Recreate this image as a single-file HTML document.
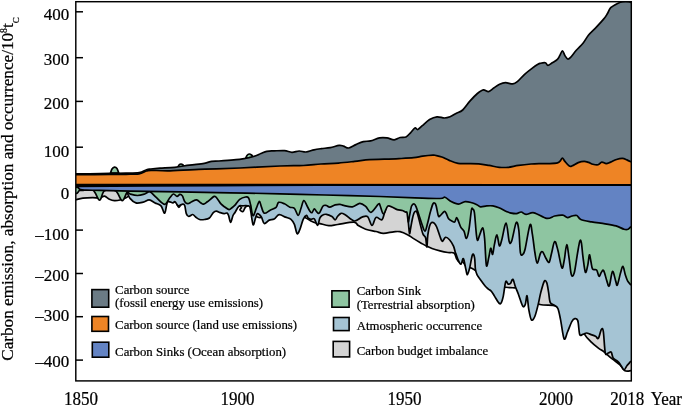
<!DOCTYPE html>
<html><head><meta charset="utf-8"><style>
html,body{margin:0;padding:0;background:#fff;}
svg{display:block;}
text{font-family:"Liberation Serif","Times New Roman",serif;fill:#000;stroke:#000;stroke-width:0.22px;}
.ax text{font-size:17px;}
.lg{font-size:12.8px;}
</style></head><body>
<svg width="685" height="407" viewBox="0 0 685 407">
<defs><clipPath id="pc"><rect x="76" y="1.5" width="555" height="379.5"/></clipPath></defs>
<rect width="685" height="407" fill="#fff"/>
<line x1="76" y1="11.8" x2="83" y2="11.8" stroke="#000" stroke-width="1.5"/>
<line x1="76" y1="57.7" x2="83" y2="57.7" stroke="#000" stroke-width="1.5"/>
<line x1="76" y1="101.4" x2="83" y2="101.4" stroke="#000" stroke-width="1.5"/>
<line x1="76" y1="147.2" x2="83" y2="147.2" stroke="#000" stroke-width="1.5"/>
<line x1="76" y1="192.3" x2="83" y2="192.3" stroke="#000" stroke-width="1.5"/>
<line x1="76" y1="230.1" x2="83" y2="230.1" stroke="#000" stroke-width="1.5"/>
<line x1="76" y1="273.5" x2="83" y2="273.5" stroke="#000" stroke-width="1.5"/>
<line x1="76" y1="316.7" x2="83" y2="316.7" stroke="#000" stroke-width="1.5"/>
<line x1="76" y1="360.1" x2="83" y2="360.1" stroke="#000" stroke-width="1.5"/>
<g clip-path="url(#pc)">
<path d="M76 185.0 L631 185.0 L631 370.7 C629.98 370.7 626.73 371.68 624.9 370.7 C623.07 369.72 622.12 366.77 620 364.8 C617.88 362.83 614.82 361.02 612.2 358.9 C609.58 356.78 606.6 353.9 604.3 352.1 C602 350.3 600.7 349.9 598.4 348.1 C596.1 346.3 592.8 343.58 590.5 341.3 C588.2 339.02 587.18 338.62 584.6 334.4 C582.02 330.18 578.27 319.73 575 316 C571.73 312.27 567.83 313.5 565 312 C562.17 310.5 560 308.12 558 307 C556 305.88 556 305.72 553 305.3 C550 304.88 543.83 305.38 540 304.5 C536.17 303.62 533.33 302.25 530 300 C526.67 297.75 522.17 293 520 291 C517.83 289 517.92 288.53 517 288 C516.08 287.47 515.67 287.85 514.5 287.8 C513.33 287.75 511.58 287.78 510 287.7 C508.42 287.62 506.33 287.08 505 287.3 C503.67 287.52 503.5 288.55 502 289 C500.5 289.45 497.83 290.17 496 290 C494.17 289.83 492.83 289.17 491 288 C489.17 286.83 486.83 285 485 283 C483.17 281 481.33 277.83 480 276 C478.67 274.17 478 273.08 477 272 C476 270.92 475.17 270.23 474 269.5 C472.83 268.77 471.17 267.85 470 267.6 C468.83 267.35 468.17 268.93 467 268 C465.83 267.07 464.3 263 463 262 C461.7 261 460.27 262.55 459.2 262 C458.13 261.45 457.47 260.2 456.6 258.7 C455.73 257.2 455.45 254.03 454 253 C452.55 251.97 450.23 252.85 447.9 252.5 C445.57 252.15 442.65 251.57 440 250.9 C437.35 250.23 434.27 249.3 432 248.5 C429.73 247.7 428.27 247.03 426.4 246.1 C424.53 245.17 423.07 244.23 420.8 242.9 C418.53 241.57 414.93 239.43 412.8 238.1 C410.67 236.77 410.13 235.97 408 234.9 C405.87 233.83 402.38 232.22 400 231.7 C397.62 231.18 396.47 231.53 393.7 231.8 C390.93 232.07 386.35 233.35 383.4 233.3 C380.45 233.25 378.95 232.18 376 231.5 C373.05 230.82 368.65 230.18 365.7 229.2 C362.75 228.22 360.27 226.77 358.3 225.6 C356.33 224.43 357.33 222.38 353.9 222.2 C350.47 222.02 341.88 223.93 337.7 224.5 C333.52 225.07 331.75 225.75 328.8 225.6 C325.85 225.45 322.05 224 320 223.6 C317.95 223.2 318.02 223.63 316.5 223.2 C314.98 222.77 312.75 221.92 310.9 221 C309.05 220.08 307.22 218.53 305.4 217.7 C303.58 216.87 304.23 216.62 300 216 C295.77 215.38 286 214 280 214 C274 214 267.17 215.42 264 216 C260.83 216.58 262 217.3 261 217.5 C260 217.7 259 217.62 258 217.2 C257 216.78 256.33 216.87 255 215 C253.67 213.13 251.57 207.33 250 206 C248.43 204.67 246.77 206.08 245.6 207 C244.43 207.92 243.93 211 243 211.5 C242.07 212 240.83 210.92 240 210 C239.17 209.08 244.67 206.83 238 206 C231.33 205.17 209.17 205.5 200 205 C190.83 204.5 186.25 202.92 183 203 C179.75 203.08 181.2 204.78 180.5 205.5 C179.8 206.22 179.38 207.47 178.8 207.3 C178.22 207.13 177.63 205.38 177 204.5 C176.37 203.62 177.83 202.75 175 202 C172.17 201.25 165.83 200.83 160 200 C154.17 199.17 145 197.67 140 197 C135 196.33 132.32 195.88 130 196 C127.68 196.12 127.77 197.03 126.1 197.7 C124.43 198.37 121.97 199.52 120 200 C118.03 200.48 116.07 200.73 114.3 200.6 C112.53 200.47 111.03 199.93 109.4 199.2 C107.77 198.47 106.13 196.4 104.5 196.2 C102.87 196 101.57 197.75 99.6 198 C97.63 198.25 95.48 197.67 92.7 197.7 C89.92 197.73 85.68 197.87 82.9 198.2 C80.12 198.53 77.15 199.45 76 199.7 Z" fill="#d4d4d4"/>
<path d="M76 199.7 C77.15 199.45 80.12 198.53 82.9 198.2 C85.68 197.87 89.92 197.73 92.7 197.7 C95.48 197.67 97.63 198.25 99.6 198 C101.57 197.75 102.87 196 104.5 196.2 C106.13 196.4 107.77 198.47 109.4 199.2 C111.03 199.93 112.53 200.47 114.3 200.6 C116.07 200.73 118.03 200.48 120 200 C121.97 199.52 124.43 198.37 126.1 197.7 C127.77 197.03 127.68 196.12 130 196 C132.32 195.88 135 196.33 140 197 C145 197.67 154.17 199.17 160 200 C165.83 200.83 172.17 201.25 175 202 C177.83 202.75 176.37 203.62 177 204.5 C177.63 205.38 178.22 207.13 178.8 207.3 C179.38 207.47 179.8 206.22 180.5 205.5 C181.2 204.78 179.75 203.08 183 203 C186.25 202.92 190.83 204.5 200 205 C209.17 205.5 231.33 205.17 238 206 C244.67 206.83 239.17 209.08 240 210 C240.83 210.92 242.07 212 243 211.5 C243.93 211 244.43 207.92 245.6 207 C246.77 206.08 248.43 204.67 250 206 C251.57 207.33 253.67 213.13 255 215 C256.33 216.87 257 216.78 258 217.2 C259 217.62 260 217.7 261 217.5 C262 217.3 260.83 216.58 264 216 C267.17 215.42 274 214 280 214 C286 214 295.77 215.38 300 216 C304.23 216.62 303.58 216.87 305.4 217.7 C307.22 218.53 309.05 220.08 310.9 221 C312.75 221.92 314.98 222.77 316.5 223.2 C318.02 223.63 317.95 223.2 320 223.6 C322.05 224 325.85 225.45 328.8 225.6 C331.75 225.75 333.52 225.07 337.7 224.5 C341.88 223.93 350.47 222.02 353.9 222.2 C357.33 222.38 356.33 224.43 358.3 225.6 C360.27 226.77 362.75 228.22 365.7 229.2 C368.65 230.18 373.05 230.82 376 231.5 C378.95 232.18 380.45 233.25 383.4 233.3 C386.35 233.35 390.93 232.07 393.7 231.8 C396.47 231.53 397.62 231.18 400 231.7 C402.38 232.22 405.87 233.83 408 234.9 C410.13 235.97 410.67 236.77 412.8 238.1 C414.93 239.43 418.53 241.57 420.8 242.9 C423.07 244.23 424.53 245.17 426.4 246.1 C428.27 247.03 429.73 247.7 432 248.5 C434.27 249.3 437.35 250.23 440 250.9 C442.65 251.57 445.57 252.15 447.9 252.5 C450.23 252.85 452.55 251.97 454 253 C455.45 254.03 455.73 257.2 456.6 258.7 C457.47 260.2 458.13 261.45 459.2 262 C460.27 262.55 461.7 261 463 262 C464.3 263 465.83 267.07 467 268 C468.17 268.93 468.83 267.35 470 267.6 C471.17 267.85 472.83 268.77 474 269.5 C475.17 270.23 476 270.92 477 272 C478 273.08 478.67 274.17 480 276 C481.33 277.83 483.17 281 485 283 C486.83 285 489.17 286.83 491 288 C492.83 289.17 494.17 289.83 496 290 C497.83 290.17 500.5 289.45 502 289 C503.5 288.55 503.67 287.52 505 287.3 C506.33 287.08 508.42 287.62 510 287.7 C511.58 287.78 513.33 287.75 514.5 287.8 C515.67 287.85 516.08 287.47 517 288 C517.92 288.53 517.83 289 520 291 C522.17 293 526.67 297.75 530 300 C533.33 302.25 536.17 303.62 540 304.5 C543.83 305.38 550 304.88 553 305.3 C556 305.72 556 305.88 558 307 C560 308.12 562.17 310.5 565 312 C567.83 313.5 571.73 312.27 575 316 C578.27 319.73 582.02 330.18 584.6 334.4 C587.18 338.62 588.2 339.02 590.5 341.3 C592.8 343.58 596.1 346.3 598.4 348.1 C600.7 349.9 602 350.3 604.3 352.1 C606.6 353.9 609.58 356.78 612.2 358.9 C614.82 361.02 617.88 362.83 620 364.8 C622.12 366.77 623.07 369.72 624.9 370.7 C626.73 371.68 629.98 370.7 631 370.7" fill="none" stroke="#000" stroke-width="1.7" stroke-linejoin="round"/>
<path d="M76 185.0 L631 185.0 L631 361 C630.73 361.32 630.08 362.1 629.4 362.9 C628.72 363.7 627.82 364.67 626.9 365.8 C625.98 366.93 625.05 370.02 623.9 369.7 C622.75 369.38 621.13 365.37 620 363.9 C618.87 362.43 618.25 361.9 617.1 360.9 C615.95 359.9 614.08 359.37 613.1 357.9 C612.12 356.43 612.02 352.92 611.2 352.1 C610.38 351.28 609.18 352.85 608.2 353 C607.22 353.15 606.12 356.6 605.3 353 C604.48 349.4 603.97 335.32 603.3 331.4 C602.63 327.48 602.12 328.35 601.3 329.5 C600.48 330.65 599.37 337.17 598.4 338.3 C597.43 339.43 596.82 336.95 595.5 336.3 C594.18 335.65 591.98 334.95 590.5 334.4 C589.02 333.85 587.9 333 586.6 333 C585.3 333 583.85 334.17 582.7 334.4 C581.55 334.63 580.52 336.7 579.7 334.4 C578.88 332.1 578.62 323.22 577.8 320.6 C576.98 317.98 575.8 318.53 574.8 318.7 C573.8 318.87 573.02 319.38 571.8 321.6 C570.58 323.82 568.78 329.13 567.5 332 C566.22 334.87 565.25 340.82 564.1 338.8 C562.95 336.78 561.62 324.92 560.6 319.9 C559.58 314.88 559 311.13 558 308.7 C557 306.27 555.88 306.3 554.6 305.3 C553.32 304.3 551.3 304.85 550.3 302.7 C549.3 300.55 549.18 295.7 548.6 292.4 C548.02 289.1 547.52 284.77 546.8 282.9 C546.08 281.03 545.3 279.62 544.3 281.2 C543.3 282.78 541.82 288.53 540.8 292.4 C539.78 296.27 539.2 300.38 538.2 304.4 C537.2 308.42 535.93 313.92 534.8 316.5 C533.67 319.08 532.4 321.05 531.4 319.9 C530.4 318.75 529.53 313.62 528.8 309.6 C528.07 305.58 527.58 296.67 527 295.8 C526.42 294.93 526.02 302.68 525.3 304.4 C524.58 306.12 523.83 307.75 522.7 306.1 C521.57 304.45 519.73 297.77 518.5 294.5 C517.27 291.23 516.23 289.03 515.3 286.5 C514.37 283.97 513.7 279.83 512.9 279.3 C512.1 278.77 511.3 282.5 510.5 283.3 C509.7 284.1 508.9 284.37 508.1 284.1 C507.3 283.83 506.5 279.7 505.7 281.7 C504.9 283.7 504.1 292.5 503.3 296.1 C502.5 299.7 501.7 302.23 500.9 303.3 C500.1 304.37 499.57 303.7 498.5 302.5 C497.43 301.3 495.7 297.97 494.5 296.1 C493.3 294.23 492.37 292.5 491.3 291.3 C490.23 290.1 489.17 289.83 488.1 288.9 C487.03 287.97 486.23 287.3 484.9 285.7 C483.57 284.1 481.42 281.15 480.1 279.3 C478.78 277.45 477.78 276.32 477 274.6 C476.22 272.88 475.8 271.8 475.4 269 C475 266.2 475.08 260.2 474.6 257.8 C474.12 255.4 473.3 253 472.5 254.6 C471.7 256.2 470.65 264.07 469.8 267.4 C468.95 270.73 468.07 274.33 467.4 274.6 C466.73 274.87 466.47 271.67 465.8 269 C465.13 266.33 464.2 259.4 463.4 258.6 C462.6 257.8 461.8 263.8 461 264.2 C460.2 264.6 459.4 262.6 458.6 261 C457.8 259.4 456.77 256.1 456.2 254.6 C455.63 253.1 455.65 253.42 455.2 252 C454.75 250.58 454.45 248.15 453.5 246.1 C452.55 244.05 450.83 241.17 449.5 239.7 C448.17 238.23 446.7 237.03 445.5 237.3 C444.3 237.57 443.22 241.43 442.3 241.3 C441.38 241.17 440.93 238.88 440 236.5 C439.07 234.12 437.67 229.22 436.7 227 C435.73 224.78 435.05 223.93 434.2 223.2 C433.35 222.47 432.37 222.15 431.6 222.6 C430.83 223.05 430.23 223.8 429.6 225.9 C428.97 228 428.25 231.68 427.8 235.2 C427.35 238.72 427.27 246.57 426.9 247 C426.53 247.43 426.27 239.98 425.6 237.8 C424.93 235.62 423.78 236.1 422.9 233.9 C422.02 231.7 421.07 227.48 420.3 224.6 C419.53 221.72 418.87 218.7 418.3 216.6 C417.73 214.5 417.35 212.88 416.9 212 C416.45 211.12 416.08 211.13 415.6 211.3 C415.12 211.47 414.55 211.68 414 213 C413.45 214.32 412.88 216.53 412.3 219.2 C411.72 221.87 410.97 226.62 410.5 229 C410.03 231.38 409.87 234.67 409.5 233.5 C409.13 232.33 408.72 226.25 408.3 222 C407.88 217.75 408.38 210.83 407 208 C405.62 205.17 403.2 205.42 400 205 C396.8 204.58 390.32 204.42 387.8 205.5 C385.28 206.58 385.88 209.13 384.9 211.5 C383.92 213.87 383.38 218.72 381.9 219.7 C380.42 220.68 377.65 216.45 376 217.4 C374.35 218.35 373.4 225.53 372 225.4 C370.6 225.27 369.25 217.98 367.6 216.6 C365.95 215.22 364.32 216.37 362.1 217.1 C359.88 217.83 357.07 221.35 354.3 221 C351.53 220.65 347.7 216.28 345.5 215 C343.3 213.72 342.43 213.05 341.1 213.3 C339.77 213.55 338.48 215.4 337.5 216.5 C336.52 217.6 336.13 219.9 335.2 219.9 C334.27 219.9 333.37 217.43 331.9 216.5 C330.43 215.57 328.05 214.48 326.4 214.3 C324.75 214.12 323.1 214.75 322 215.4 C320.9 216.05 320.53 216.53 319.8 218.2 C319.07 219.87 318.52 225.3 317.6 225.4 C316.68 225.5 315.42 219.82 314.3 218.8 C313.18 217.78 311.92 219.4 310.9 219.3 C309.88 219.2 308.93 218.85 308.2 218.2 C307.47 217.55 307.33 215.22 306.5 215.4 C305.67 215.58 304.3 216.98 303.2 219.3 C302.1 221.62 300.92 226.9 299.9 229.3 C298.88 231.7 298.02 234.53 297.1 233.7 C296.18 232.87 295.42 226.7 294.4 224.3 C293.38 221.9 292.48 220.5 291 219.3 C289.52 218.1 287.48 217.87 285.5 217.1 C283.52 216.33 280.98 214.37 279.1 214.7 C277.22 215.03 275.85 218.2 274.2 219.1 C272.55 220 270.85 219.37 269.2 220.1 C267.55 220.83 265.6 224 264.3 223.5 C263 223 262.55 218.73 261.4 217.1 C260.25 215.47 258.38 213.53 257.4 213.7 C256.42 213.87 256.23 216.3 255.5 218.1 C254.77 219.9 253.9 226.22 253 224.5 C252.1 222.78 251 210.92 250.1 207.8 C249.2 204.68 248.83 206.13 247.6 205.8 C246.37 205.47 244.17 205.72 242.7 205.8 C241.23 205.88 240.08 205.18 238.8 206.3 C237.52 207.42 235.97 210.97 235 212.5 C234.03 214.03 233.73 213.85 233 215.5 C232.27 217.15 231.33 222.4 230.6 222.4 C229.87 222.4 229.18 217.05 228.6 215.5 C228.02 213.95 227.83 213.42 227.1 213.1 C226.37 212.78 225.35 213.68 224.2 213.6 C223.05 213.52 221.52 213.02 220.2 212.6 C218.88 212.18 217.45 211.1 216.3 211.1 C215.15 211.1 214.45 211.45 213.3 212.6 C212.15 213.75 210.87 216.85 209.4 218 C207.93 219.15 206.13 219.25 204.5 219.5 C202.87 219.75 201.08 219.92 199.6 219.5 C198.12 219.08 196.75 217.83 195.6 217 C194.45 216.17 193.83 214.58 192.7 214.5 C191.57 214.42 189.87 216.65 188.8 216.5 C187.73 216.35 186.97 215.4 186.3 213.6 C185.63 211.8 185.37 207.27 184.8 205.7 C184.23 204.13 183.72 204.28 182.9 204.2 C182.08 204.12 180.72 204.95 179.9 205.2 C179.08 205.45 178.82 206.27 178 205.7 C177.18 205.13 175.87 202.27 175 201.8 C174.13 201.33 174.03 202.85 172.8 202.9 C171.57 202.95 168.95 200.38 167.6 202.1 C166.25 203.82 165.8 212.58 164.7 213.2 C163.6 213.82 162.6 207.52 161 205.8 C159.4 204.08 157.07 203.88 155.1 202.9 C153.13 201.92 151.17 200.03 149.2 199.9 C147.23 199.77 145.52 201.6 143.3 202.1 C141.08 202.6 138.12 203.52 135.9 202.9 C133.68 202.28 131.65 200.38 130 198.4 C128.35 196.42 127.67 192.48 126 191 C124.33 189.52 128.33 189.83 120 189.5 C111.67 189.17 83.33 189.08 76 189 Z" fill="#a5c4d4"/>
<path d="M76 189 C83.33 189.08 111.67 189.17 120 189.5 C128.33 189.83 124.33 189.52 126 191 C127.67 192.48 128.35 196.42 130 198.4 C131.65 200.38 133.68 202.28 135.9 202.9 C138.12 203.52 141.08 202.6 143.3 202.1 C145.52 201.6 147.23 199.77 149.2 199.9 C151.17 200.03 153.13 201.92 155.1 202.9 C157.07 203.88 159.4 204.08 161 205.8 C162.6 207.52 163.6 213.82 164.7 213.2 C165.8 212.58 166.25 203.82 167.6 202.1 C168.95 200.38 171.57 202.95 172.8 202.9 C174.03 202.85 174.13 201.33 175 201.8 C175.87 202.27 177.18 205.13 178 205.7 C178.82 206.27 179.08 205.45 179.9 205.2 C180.72 204.95 182.08 204.12 182.9 204.2 C183.72 204.28 184.23 204.13 184.8 205.7 C185.37 207.27 185.63 211.8 186.3 213.6 C186.97 215.4 187.73 216.35 188.8 216.5 C189.87 216.65 191.57 214.42 192.7 214.5 C193.83 214.58 194.45 216.17 195.6 217 C196.75 217.83 198.12 219.08 199.6 219.5 C201.08 219.92 202.87 219.75 204.5 219.5 C206.13 219.25 207.93 219.15 209.4 218 C210.87 216.85 212.15 213.75 213.3 212.6 C214.45 211.45 215.15 211.1 216.3 211.1 C217.45 211.1 218.88 212.18 220.2 212.6 C221.52 213.02 223.05 213.52 224.2 213.6 C225.35 213.68 226.37 212.78 227.1 213.1 C227.83 213.42 228.02 213.95 228.6 215.5 C229.18 217.05 229.87 222.4 230.6 222.4 C231.33 222.4 232.27 217.15 233 215.5 C233.73 213.85 234.03 214.03 235 212.5 C235.97 210.97 237.52 207.42 238.8 206.3 C240.08 205.18 241.23 205.88 242.7 205.8 C244.17 205.72 246.37 205.47 247.6 205.8 C248.83 206.13 249.2 204.68 250.1 207.8 C251 210.92 252.1 222.78 253 224.5 C253.9 226.22 254.77 219.9 255.5 218.1 C256.23 216.3 256.42 213.87 257.4 213.7 C258.38 213.53 260.25 215.47 261.4 217.1 C262.55 218.73 263 223 264.3 223.5 C265.6 224 267.55 220.83 269.2 220.1 C270.85 219.37 272.55 220 274.2 219.1 C275.85 218.2 277.22 215.03 279.1 214.7 C280.98 214.37 283.52 216.33 285.5 217.1 C287.48 217.87 289.52 218.1 291 219.3 C292.48 220.5 293.38 221.9 294.4 224.3 C295.42 226.7 296.18 232.87 297.1 233.7 C298.02 234.53 298.88 231.7 299.9 229.3 C300.92 226.9 302.1 221.62 303.2 219.3 C304.3 216.98 305.67 215.58 306.5 215.4 C307.33 215.22 307.47 217.55 308.2 218.2 C308.93 218.85 309.88 219.2 310.9 219.3 C311.92 219.4 313.18 217.78 314.3 218.8 C315.42 219.82 316.68 225.5 317.6 225.4 C318.52 225.3 319.07 219.87 319.8 218.2 C320.53 216.53 320.9 216.05 322 215.4 C323.1 214.75 324.75 214.12 326.4 214.3 C328.05 214.48 330.43 215.57 331.9 216.5 C333.37 217.43 334.27 219.9 335.2 219.9 C336.13 219.9 336.52 217.6 337.5 216.5 C338.48 215.4 339.77 213.55 341.1 213.3 C342.43 213.05 343.3 213.72 345.5 215 C347.7 216.28 351.53 220.65 354.3 221 C357.07 221.35 359.88 217.83 362.1 217.1 C364.32 216.37 365.95 215.22 367.6 216.6 C369.25 217.98 370.6 225.27 372 225.4 C373.4 225.53 374.35 218.35 376 217.4 C377.65 216.45 380.42 220.68 381.9 219.7 C383.38 218.72 383.92 213.87 384.9 211.5 C385.88 209.13 385.28 206.58 387.8 205.5 C390.32 204.42 396.8 204.58 400 205 C403.2 205.42 405.62 205.17 407 208 C408.38 210.83 407.88 217.75 408.3 222 C408.72 226.25 409.13 232.33 409.5 233.5 C409.87 234.67 410.03 231.38 410.5 229 C410.97 226.62 411.72 221.87 412.3 219.2 C412.88 216.53 413.45 214.32 414 213 C414.55 211.68 415.12 211.47 415.6 211.3 C416.08 211.13 416.45 211.12 416.9 212 C417.35 212.88 417.73 214.5 418.3 216.6 C418.87 218.7 419.53 221.72 420.3 224.6 C421.07 227.48 422.02 231.7 422.9 233.9 C423.78 236.1 424.93 235.62 425.6 237.8 C426.27 239.98 426.53 247.43 426.9 247 C427.27 246.57 427.35 238.72 427.8 235.2 C428.25 231.68 428.97 228 429.6 225.9 C430.23 223.8 430.83 223.05 431.6 222.6 C432.37 222.15 433.35 222.47 434.2 223.2 C435.05 223.93 435.73 224.78 436.7 227 C437.67 229.22 439.07 234.12 440 236.5 C440.93 238.88 441.38 241.17 442.3 241.3 C443.22 241.43 444.3 237.57 445.5 237.3 C446.7 237.03 448.17 238.23 449.5 239.7 C450.83 241.17 452.55 244.05 453.5 246.1 C454.45 248.15 454.75 250.58 455.2 252 C455.65 253.42 455.63 253.1 456.2 254.6 C456.77 256.1 457.8 259.4 458.6 261 C459.4 262.6 460.2 264.6 461 264.2 C461.8 263.8 462.6 257.8 463.4 258.6 C464.2 259.4 465.13 266.33 465.8 269 C466.47 271.67 466.73 274.87 467.4 274.6 C468.07 274.33 468.95 270.73 469.8 267.4 C470.65 264.07 471.7 256.2 472.5 254.6 C473.3 253 474.12 255.4 474.6 257.8 C475.08 260.2 475 266.2 475.4 269 C475.8 271.8 476.22 272.88 477 274.6 C477.78 276.32 478.78 277.45 480.1 279.3 C481.42 281.15 483.57 284.1 484.9 285.7 C486.23 287.3 487.03 287.97 488.1 288.9 C489.17 289.83 490.23 290.1 491.3 291.3 C492.37 292.5 493.3 294.23 494.5 296.1 C495.7 297.97 497.43 301.3 498.5 302.5 C499.57 303.7 500.1 304.37 500.9 303.3 C501.7 302.23 502.5 299.7 503.3 296.1 C504.1 292.5 504.9 283.7 505.7 281.7 C506.5 279.7 507.3 283.83 508.1 284.1 C508.9 284.37 509.7 284.1 510.5 283.3 C511.3 282.5 512.1 278.77 512.9 279.3 C513.7 279.83 514.37 283.97 515.3 286.5 C516.23 289.03 517.27 291.23 518.5 294.5 C519.73 297.77 521.57 304.45 522.7 306.1 C523.83 307.75 524.58 306.12 525.3 304.4 C526.02 302.68 526.42 294.93 527 295.8 C527.58 296.67 528.07 305.58 528.8 309.6 C529.53 313.62 530.4 318.75 531.4 319.9 C532.4 321.05 533.67 319.08 534.8 316.5 C535.93 313.92 537.2 308.42 538.2 304.4 C539.2 300.38 539.78 296.27 540.8 292.4 C541.82 288.53 543.3 282.78 544.3 281.2 C545.3 279.62 546.08 281.03 546.8 282.9 C547.52 284.77 548.02 289.1 548.6 292.4 C549.18 295.7 549.3 300.55 550.3 302.7 C551.3 304.85 553.32 304.3 554.6 305.3 C555.88 306.3 557 306.27 558 308.7 C559 311.13 559.58 314.88 560.6 319.9 C561.62 324.92 562.95 336.78 564.1 338.8 C565.25 340.82 566.22 334.87 567.5 332 C568.78 329.13 570.58 323.82 571.8 321.6 C573.02 319.38 573.8 318.87 574.8 318.7 C575.8 318.53 576.98 317.98 577.8 320.6 C578.62 323.22 578.88 332.1 579.7 334.4 C580.52 336.7 581.55 334.63 582.7 334.4 C583.85 334.17 585.3 333 586.6 333 C587.9 333 589.02 333.85 590.5 334.4 C591.98 334.95 594.18 335.65 595.5 336.3 C596.82 336.95 597.43 339.43 598.4 338.3 C599.37 337.17 600.48 330.65 601.3 329.5 C602.12 328.35 602.63 327.48 603.3 331.4 C603.97 335.32 604.48 349.4 605.3 353 C606.12 356.6 607.22 353.15 608.2 353 C609.18 352.85 610.38 351.28 611.2 352.1 C612.02 352.92 612.12 356.43 613.1 357.9 C614.08 359.37 615.95 359.9 617.1 360.9 C618.25 361.9 618.87 362.43 620 363.9 C621.13 365.37 622.75 369.38 623.9 369.7 C625.05 370.02 625.98 366.93 626.9 365.8 C627.82 364.67 628.72 363.7 629.4 362.9 C630.08 362.1 630.73 361.32 631 361" fill="none" stroke="#000" stroke-width="1.7" stroke-linejoin="round"/>
<path d="M76 185.0 L631 185.0 L631 285.1 C630.45 284.43 628.65 282.83 627.7 281.1 C626.75 279.37 626.1 277.15 625.3 274.7 C624.5 272.25 623.7 266.67 622.9 266.4 C622.1 266.13 621.43 269.98 620.5 273.1 C619.57 276.22 618.1 283.77 617.3 285.1 C616.5 286.43 616.5 283.37 615.7 281.1 C614.9 278.83 613.57 270.7 612.5 271.5 C611.43 272.3 610.23 284.3 609.3 285.9 C608.37 287.5 607.83 283.63 606.9 281.1 C605.97 278.57 604.62 272.17 603.7 270.7 C602.78 269.23 602.18 271.37 601.4 272.3 C600.62 273.23 599.8 276.68 599 276.3 C598.2 275.92 597.67 271.2 596.6 270 C595.53 268.8 593.53 270.43 592.6 269.1 C591.67 267.77 591.53 264.38 591 262 C590.47 259.62 589.93 254.28 589.4 254.8 C588.87 255.32 588.47 262.18 587.8 265.1 C587.13 268.02 586.2 273.62 585.4 272.3 C584.6 270.98 583.67 262.12 583 257.2 C582.33 252.28 581.93 245.47 581.4 242.8 C580.87 240.13 580.47 239.33 579.8 241.2 C579.13 243.07 578.33 248.68 577.4 254 C576.47 259.32 575.22 269.68 574.2 273.1 C573.18 276.52 572.15 276.97 571.3 274.5 C570.45 272.03 569.87 263.27 569.1 258.3 C568.33 253.33 567.5 244.43 566.7 244.7 C565.9 244.97 565.1 256.03 564.3 259.9 C563.5 263.77 562.97 269.5 561.9 267.9 C560.83 266.3 559.1 254.68 557.9 250.3 C556.7 245.92 555.77 241.07 554.7 241.6 C553.63 242.13 552.43 250.05 551.5 253.5 C550.57 256.95 550.03 261.5 549.1 262.3 C548.17 263.1 546.97 260.03 545.9 258.3 C544.83 256.57 543.62 252.7 542.7 251.9 C541.78 251.1 541.32 251.63 540.4 253.5 C539.48 255.37 538.13 263.35 537.2 263.1 C536.27 262.85 535.6 256.78 534.8 252 C534 247.22 533.2 238.93 532.4 234.4 C531.6 229.87 531.2 222.42 530 224.8 C528.8 227.18 526.4 243.78 525.2 248.7 C524 253.62 523.6 253.63 522.8 254.3 C522 254.97 521.07 256.75 520.4 252.7 C519.73 248.65 519.5 235.02 518.8 230 C518.1 224.98 517.38 220.78 516.2 222.6 C515.02 224.42 512.87 237.75 511.7 240.9 C510.53 244.05 510.13 244.47 509.2 241.5 C508.27 238.53 507.33 223.4 506.1 223.1 C504.87 222.8 502.92 235.92 501.8 239.7 C500.68 243.48 500.22 246.62 499.4 245.8 C498.58 244.98 497.73 235 496.9 234.8 C496.07 234.6 495.12 241.33 494.4 244.6 C493.68 247.87 493.22 253.78 492.6 254.4 C491.98 255.02 491.32 247.88 490.7 248.3 C490.08 248.72 489.62 254.03 488.9 256.9 C488.18 259.77 487.12 268.57 486.4 265.5 C485.68 262.43 485.2 244.75 484.6 238.5 C484 232.25 483.62 228.62 482.8 228 C481.98 227.38 480.58 232.72 479.7 234.8 C478.82 236.88 478.07 240.7 477.5 240.5 C476.93 240.3 476.82 238.23 476.3 233.6 C475.78 228.97 475.02 216.8 474.4 212.7 C473.78 208.6 473.1 209.42 472.6 209 C472.1 208.58 472.02 206.72 471.4 210.2 C470.78 213.68 469.73 225.18 468.9 229.9 C468.07 234.62 467.22 238.3 466.4 238.5 C465.58 238.7 464.92 232.95 464 231.1 C463.08 229.25 461.82 229.03 460.9 227.4 C459.98 225.77 459.22 222.93 458.5 221.3 C457.78 219.67 457.22 217.5 456.6 217.6 C455.98 217.7 455.52 221.28 454.8 221.9 C454.08 222.52 453.33 221.82 452.3 221.3 C451.27 220.78 449.62 220.13 448.6 218.8 C447.58 217.47 446.92 214.52 446.2 213.3 C445.48 212.08 445.33 211.08 444.3 211.5 C443.27 211.92 441 215.08 440 215.8 C439 216.52 438.93 217.43 438.3 215.8 C437.67 214.17 436.77 208.08 436.2 206 C435.63 203.92 435.45 203.63 434.9 203.3 C434.35 202.97 433.68 202.45 432.9 204 C432.12 205.55 431.08 209.4 430.2 212.6 C429.32 215.8 428.48 220.1 427.6 223.2 C426.72 226.3 425.9 231.2 424.9 231.2 C423.9 231.2 422.58 225.85 421.6 223.2 C420.62 220.55 419.88 217.95 419 215.3 C418.12 212.65 417.08 209.18 416.3 207.3 C415.52 205.42 415.08 204.22 414.3 204 C413.52 203.78 412.38 204.12 411.6 206 C410.82 207.88 410.15 212.65 409.6 215.3 C409.05 217.95 408.73 222.35 408.3 221.9 C407.87 221.45 407.42 214.22 407 212.6 C406.58 210.98 406.57 212.55 405.8 212.2 C405.03 211.85 403.83 210.93 402.4 210.5 C400.97 210.07 398.93 210.18 397.2 209.6 C395.47 209.02 393.58 207.57 392 207 C390.42 206.43 389.13 205.05 387.7 206.2 C386.27 207.35 384.68 214.05 383.4 213.9 C382.12 213.75 380.85 206.92 380 205.3 C379.15 203.68 379.82 203.03 378.3 204.2 C376.78 205.37 373 211.93 370.9 212.3 C368.8 212.67 367.55 207.88 365.7 206.4 C363.85 204.92 362.02 203.33 359.8 203.4 C357.58 203.47 355.1 206.47 352.4 206.8 C349.7 207.13 345.67 205.8 343.6 205.4 C341.53 205 341.4 204.48 340 204.4 C338.6 204.32 336.92 204.43 335.2 204.9 C333.48 205.37 331.17 207.1 329.7 207.2 C328.23 207.3 327.5 205.7 326.4 205.5 C325.3 205.3 324.3 204.72 323.1 206 C321.9 207.28 320.3 212.27 319.2 213.2 C318.1 214.13 317.32 212.33 316.5 211.6 C315.68 210.87 315.05 208.62 314.3 208.8 C313.55 208.98 312.75 212.33 312 212.7 C311.25 213.07 310.62 212.12 309.8 211 C308.98 209.88 308.1 207.75 307.1 206 C306.1 204.25 304.82 200.12 303.8 200.5 C302.78 200.88 301.93 205.82 301 208.3 C300.07 210.78 299.3 215.4 298.2 215.4 C297.1 215.4 295.78 209.67 294.4 208.3 C293.02 206.93 291.57 207.95 289.9 207.2 C288.23 206.45 286.28 204.6 284.4 203.8 C282.52 203 279.98 201.82 278.6 202.4 C277.22 202.98 277.5 206 276.1 207.3 C274.7 208.6 272.17 209.22 270.2 210.2 C268.23 211.18 265.77 213.77 264.3 213.2 C262.83 212.63 262.22 208.77 261.4 206.8 C260.58 204.83 260.22 201.23 259.4 201.4 C258.58 201.57 257.57 205.43 256.5 207.8 C255.43 210.17 253.98 216.1 253 215.6 C252.02 215.1 251.33 207.73 250.6 204.8 C249.87 201.87 249.43 199.3 248.6 198 C247.77 196.7 247.08 196.77 245.6 197 C244.12 197.23 241.47 198.03 239.7 199.4 C237.93 200.77 236.28 203.82 235 205.2 C233.72 206.58 232.98 206.97 232 207.7 C231.02 208.43 230.25 209.68 229.1 209.6 C227.95 209.52 226.42 208.1 225.1 207.2 C223.78 206.3 222.5 205.6 221.2 204.2 C219.9 202.8 218.45 200.1 217.3 198.8 C216.15 197.5 215.95 195.9 214.3 196.4 C212.65 196.9 209.2 200.5 207.4 201.8 C205.6 203.1 204.63 204.05 203.5 204.2 C202.37 204.35 201.75 203.43 200.6 202.7 C199.45 201.97 198.08 199.95 196.6 199.8 C195.12 199.65 193.17 201.15 191.7 201.8 C190.23 202.45 188.95 203.7 187.8 203.7 C186.65 203.7 185.7 203.1 184.8 201.8 C183.9 200.5 183.22 197.13 182.4 195.9 C181.58 194.67 180.8 194.32 179.9 194.4 C179 194.48 178.07 196.47 177 196.4 C175.93 196.33 174.7 193.78 173.5 194 C172.3 194.22 171.27 195.98 169.8 197.7 C168.33 199.42 166.92 204.3 164.7 204.3 C162.48 204.3 158.97 199.78 156.5 197.7 C154.03 195.62 151.87 192.42 149.9 191.8 C147.93 191.18 146.78 193.38 144.7 194 C142.62 194.62 139.85 195.5 137.4 195.5 C134.95 195.5 131.73 194.5 130 194 C128.27 193.5 128.3 191.4 127 192.5 C125.7 193.6 124.12 200.88 122.2 200.6 C120.28 200.32 118.45 192.43 115.5 190.8 C112.55 189.17 107.15 189.23 104.5 190.8 C101.85 192.37 101.52 200.28 99.6 200.2 C97.68 200.12 95.93 191.93 93 190.3 C90.07 188.67 84.25 190.35 82 190.4 C79.75 190.45 80.25 190.2 79.5 190.6 C78.75 191 78.08 192.27 77.5 192.8 C76.92 193.33 76.25 193.63 76 193.8 Z" fill="#8ec5a1"/>
<path d="M76 193.8 C76.25 193.63 76.92 193.33 77.5 192.8 C78.08 192.27 78.75 191 79.5 190.6 C80.25 190.2 79.75 190.45 82 190.4 C84.25 190.35 90.07 188.67 93 190.3 C95.93 191.93 97.68 200.12 99.6 200.2 C101.52 200.28 101.85 192.37 104.5 190.8 C107.15 189.23 112.55 189.17 115.5 190.8 C118.45 192.43 120.28 200.32 122.2 200.6 C124.12 200.88 125.7 193.6 127 192.5 C128.3 191.4 128.27 193.5 130 194 C131.73 194.5 134.95 195.5 137.4 195.5 C139.85 195.5 142.62 194.62 144.7 194 C146.78 193.38 147.93 191.18 149.9 191.8 C151.87 192.42 154.03 195.62 156.5 197.7 C158.97 199.78 162.48 204.3 164.7 204.3 C166.92 204.3 168.33 199.42 169.8 197.7 C171.27 195.98 172.3 194.22 173.5 194 C174.7 193.78 175.93 196.33 177 196.4 C178.07 196.47 179 194.48 179.9 194.4 C180.8 194.32 181.58 194.67 182.4 195.9 C183.22 197.13 183.9 200.5 184.8 201.8 C185.7 203.1 186.65 203.7 187.8 203.7 C188.95 203.7 190.23 202.45 191.7 201.8 C193.17 201.15 195.12 199.65 196.6 199.8 C198.08 199.95 199.45 201.97 200.6 202.7 C201.75 203.43 202.37 204.35 203.5 204.2 C204.63 204.05 205.6 203.1 207.4 201.8 C209.2 200.5 212.65 196.9 214.3 196.4 C215.95 195.9 216.15 197.5 217.3 198.8 C218.45 200.1 219.9 202.8 221.2 204.2 C222.5 205.6 223.78 206.3 225.1 207.2 C226.42 208.1 227.95 209.52 229.1 209.6 C230.25 209.68 231.02 208.43 232 207.7 C232.98 206.97 233.72 206.58 235 205.2 C236.28 203.82 237.93 200.77 239.7 199.4 C241.47 198.03 244.12 197.23 245.6 197 C247.08 196.77 247.77 196.7 248.6 198 C249.43 199.3 249.87 201.87 250.6 204.8 C251.33 207.73 252.02 215.1 253 215.6 C253.98 216.1 255.43 210.17 256.5 207.8 C257.57 205.43 258.58 201.57 259.4 201.4 C260.22 201.23 260.58 204.83 261.4 206.8 C262.22 208.77 262.83 212.63 264.3 213.2 C265.77 213.77 268.23 211.18 270.2 210.2 C272.17 209.22 274.7 208.6 276.1 207.3 C277.5 206 277.22 202.98 278.6 202.4 C279.98 201.82 282.52 203 284.4 203.8 C286.28 204.6 288.23 206.45 289.9 207.2 C291.57 207.95 293.02 206.93 294.4 208.3 C295.78 209.67 297.1 215.4 298.2 215.4 C299.3 215.4 300.07 210.78 301 208.3 C301.93 205.82 302.78 200.88 303.8 200.5 C304.82 200.12 306.1 204.25 307.1 206 C308.1 207.75 308.98 209.88 309.8 211 C310.62 212.12 311.25 213.07 312 212.7 C312.75 212.33 313.55 208.98 314.3 208.8 C315.05 208.62 315.68 210.87 316.5 211.6 C317.32 212.33 318.1 214.13 319.2 213.2 C320.3 212.27 321.9 207.28 323.1 206 C324.3 204.72 325.3 205.3 326.4 205.5 C327.5 205.7 328.23 207.3 329.7 207.2 C331.17 207.1 333.48 205.37 335.2 204.9 C336.92 204.43 338.6 204.32 340 204.4 C341.4 204.48 341.53 205 343.6 205.4 C345.67 205.8 349.7 207.13 352.4 206.8 C355.1 206.47 357.58 203.47 359.8 203.4 C362.02 203.33 363.85 204.92 365.7 206.4 C367.55 207.88 368.8 212.67 370.9 212.3 C373 211.93 376.78 205.37 378.3 204.2 C379.82 203.03 379.15 203.68 380 205.3 C380.85 206.92 382.12 213.75 383.4 213.9 C384.68 214.05 386.27 207.35 387.7 206.2 C389.13 205.05 390.42 206.43 392 207 C393.58 207.57 395.47 209.02 397.2 209.6 C398.93 210.18 400.97 210.07 402.4 210.5 C403.83 210.93 405.03 211.85 405.8 212.2 C406.57 212.55 406.58 210.98 407 212.6 C407.42 214.22 407.87 221.45 408.3 221.9 C408.73 222.35 409.05 217.95 409.6 215.3 C410.15 212.65 410.82 207.88 411.6 206 C412.38 204.12 413.52 203.78 414.3 204 C415.08 204.22 415.52 205.42 416.3 207.3 C417.08 209.18 418.12 212.65 419 215.3 C419.88 217.95 420.62 220.55 421.6 223.2 C422.58 225.85 423.9 231.2 424.9 231.2 C425.9 231.2 426.72 226.3 427.6 223.2 C428.48 220.1 429.32 215.8 430.2 212.6 C431.08 209.4 432.12 205.55 432.9 204 C433.68 202.45 434.35 202.97 434.9 203.3 C435.45 203.63 435.63 203.92 436.2 206 C436.77 208.08 437.67 214.17 438.3 215.8 C438.93 217.43 439 216.52 440 215.8 C441 215.08 443.27 211.92 444.3 211.5 C445.33 211.08 445.48 212.08 446.2 213.3 C446.92 214.52 447.58 217.47 448.6 218.8 C449.62 220.13 451.27 220.78 452.3 221.3 C453.33 221.82 454.08 222.52 454.8 221.9 C455.52 221.28 455.98 217.7 456.6 217.6 C457.22 217.5 457.78 219.67 458.5 221.3 C459.22 222.93 459.98 225.77 460.9 227.4 C461.82 229.03 463.08 229.25 464 231.1 C464.92 232.95 465.58 238.7 466.4 238.5 C467.22 238.3 468.07 234.62 468.9 229.9 C469.73 225.18 470.78 213.68 471.4 210.2 C472.02 206.72 472.1 208.58 472.6 209 C473.1 209.42 473.78 208.6 474.4 212.7 C475.02 216.8 475.78 228.97 476.3 233.6 C476.82 238.23 476.93 240.3 477.5 240.5 C478.07 240.7 478.82 236.88 479.7 234.8 C480.58 232.72 481.98 227.38 482.8 228 C483.62 228.62 484 232.25 484.6 238.5 C485.2 244.75 485.68 262.43 486.4 265.5 C487.12 268.57 488.18 259.77 488.9 256.9 C489.62 254.03 490.08 248.72 490.7 248.3 C491.32 247.88 491.98 255.02 492.6 254.4 C493.22 253.78 493.68 247.87 494.4 244.6 C495.12 241.33 496.07 234.6 496.9 234.8 C497.73 235 498.58 244.98 499.4 245.8 C500.22 246.62 500.68 243.48 501.8 239.7 C502.92 235.92 504.87 222.8 506.1 223.1 C507.33 223.4 508.27 238.53 509.2 241.5 C510.13 244.47 510.53 244.05 511.7 240.9 C512.87 237.75 515.02 224.42 516.2 222.6 C517.38 220.78 518.1 224.98 518.8 230 C519.5 235.02 519.73 248.65 520.4 252.7 C521.07 256.75 522 254.97 522.8 254.3 C523.6 253.63 524 253.62 525.2 248.7 C526.4 243.78 528.8 227.18 530 224.8 C531.2 222.42 531.6 229.87 532.4 234.4 C533.2 238.93 534 247.22 534.8 252 C535.6 256.78 536.27 262.85 537.2 263.1 C538.13 263.35 539.48 255.37 540.4 253.5 C541.32 251.63 541.78 251.1 542.7 251.9 C543.62 252.7 544.83 256.57 545.9 258.3 C546.97 260.03 548.17 263.1 549.1 262.3 C550.03 261.5 550.57 256.95 551.5 253.5 C552.43 250.05 553.63 242.13 554.7 241.6 C555.77 241.07 556.7 245.92 557.9 250.3 C559.1 254.68 560.83 266.3 561.9 267.9 C562.97 269.5 563.5 263.77 564.3 259.9 C565.1 256.03 565.9 244.97 566.7 244.7 C567.5 244.43 568.33 253.33 569.1 258.3 C569.87 263.27 570.45 272.03 571.3 274.5 C572.15 276.97 573.18 276.52 574.2 273.1 C575.22 269.68 576.47 259.32 577.4 254 C578.33 248.68 579.13 243.07 579.8 241.2 C580.47 239.33 580.87 240.13 581.4 242.8 C581.93 245.47 582.33 252.28 583 257.2 C583.67 262.12 584.6 270.98 585.4 272.3 C586.2 273.62 587.13 268.02 587.8 265.1 C588.47 262.18 588.87 255.32 589.4 254.8 C589.93 254.28 590.47 259.62 591 262 C591.53 264.38 591.67 267.77 592.6 269.1 C593.53 270.43 595.53 268.8 596.6 270 C597.67 271.2 598.2 275.92 599 276.3 C599.8 276.68 600.62 273.23 601.4 272.3 C602.18 271.37 602.78 269.23 603.7 270.7 C604.62 272.17 605.97 278.57 606.9 281.1 C607.83 283.63 608.37 287.5 609.3 285.9 C610.23 284.3 611.43 272.3 612.5 271.5 C613.57 270.7 614.9 278.83 615.7 281.1 C616.5 283.37 616.5 286.43 617.3 285.1 C618.1 283.77 619.57 276.22 620.5 273.1 C621.43 269.98 622.1 266.13 622.9 266.4 C623.7 266.67 624.5 272.25 625.3 274.7 C626.1 277.15 626.75 279.37 627.7 281.1 C628.65 282.83 630.45 284.43 631 285.1" fill="none" stroke="#000" stroke-width="1.7" stroke-linejoin="round"/>
<path d="M76 185.0 L631 185.0 L631 226.5 C630.52 226.95 629.27 228.75 628.1 229.2 C626.93 229.65 626.02 229.75 624 229.2 C621.98 228.65 619.15 226.8 616 225.9 C612.85 225 609.17 224.47 605.1 223.8 C601.03 223.13 595.65 222.62 591.6 221.9 C587.55 221.18 583.27 220.57 580.8 219.5 C578.33 218.43 578.27 216.08 576.8 215.5 C575.33 214.92 573.55 215.65 572 216 C570.45 216.35 569.05 217.73 567.5 217.6 C565.95 217.47 564.83 215.47 562.7 215.2 C560.57 214.93 557.37 215.47 554.7 216 C552.03 216.53 550.15 218.93 546.7 218.4 C543.25 217.87 537.45 213.47 534 212.8 C530.55 212.13 528.13 214.53 526 214.4 C523.87 214.27 522.8 212.13 521.2 212 C519.6 211.87 518.27 213.47 516.4 213.6 C514.53 213.73 511.67 213.15 510 212.8 C508.33 212.45 508.23 212.33 506.4 211.5 C504.57 210.67 501.25 208.73 499 207.8 C496.75 206.87 494.95 206.22 492.9 205.9 C490.85 205.58 488.75 205.75 486.7 205.9 C484.65 206.05 482.23 207 480.6 206.8 C478.97 206.6 478.33 205.37 476.9 204.7 C475.47 204.03 473.95 203.32 472 202.8 C470.05 202.28 467.45 201.38 465.2 201.6 C462.95 201.82 460.85 204.1 458.5 204.1 C456.15 204.1 453.37 202.73 451.1 201.6 C448.83 200.47 446.75 197.82 444.9 197.3 C443.05 196.78 444.98 198.42 440 198.5 C435.02 198.58 425 198.13 415 197.8 C405 197.47 395 196.97 380 196.5 C365 196.03 341.67 195.45 325 195 C308.33 194.55 295.83 194.17 280 193.8 C264.17 193.43 246.67 193.12 230 192.8 C213.33 192.48 196.67 192.18 180 191.9 C163.33 191.62 143.33 191.35 130 191.1 C116.67 190.85 107.33 190.57 100 190.4 C92.67 190.23 89.25 190.23 86 190.1 C82.75 189.97 81.83 190.02 80.5 189.6 C79.17 189.18 78.75 188.03 78 187.6 C77.25 187.17 76.33 187.1 76 187 Z" fill="#6383c3"/>
<path d="M76 187 C76.33 187.1 77.25 187.17 78 187.6 C78.75 188.03 79.17 189.18 80.5 189.6 C81.83 190.02 82.75 189.97 86 190.1 C89.25 190.23 92.67 190.23 100 190.4 C107.33 190.57 116.67 190.85 130 191.1 C143.33 191.35 163.33 191.62 180 191.9 C196.67 192.18 213.33 192.48 230 192.8 C246.67 193.12 264.17 193.43 280 193.8 C295.83 194.17 308.33 194.55 325 195 C341.67 195.45 365 196.03 380 196.5 C395 196.97 405 197.47 415 197.8 C425 198.13 435.02 198.58 440 198.5 C444.98 198.42 443.05 196.78 444.9 197.3 C446.75 197.82 448.83 200.47 451.1 201.6 C453.37 202.73 456.15 204.1 458.5 204.1 C460.85 204.1 462.95 201.82 465.2 201.6 C467.45 201.38 470.05 202.28 472 202.8 C473.95 203.32 475.47 204.03 476.9 204.7 C478.33 205.37 478.97 206.6 480.6 206.8 C482.23 207 484.65 206.05 486.7 205.9 C488.75 205.75 490.85 205.58 492.9 205.9 C494.95 206.22 496.75 206.87 499 207.8 C501.25 208.73 504.57 210.67 506.4 211.5 C508.23 212.33 508.33 212.45 510 212.8 C511.67 213.15 514.53 213.73 516.4 213.6 C518.27 213.47 519.6 211.87 521.2 212 C522.8 212.13 523.87 214.27 526 214.4 C528.13 214.53 530.55 212.13 534 212.8 C537.45 213.47 543.25 217.87 546.7 218.4 C550.15 218.93 552.03 216.53 554.7 216 C557.37 215.47 560.57 214.93 562.7 215.2 C564.83 215.47 565.95 217.47 567.5 217.6 C569.05 217.73 570.45 216.35 572 216 C573.55 215.65 575.33 214.92 576.8 215.5 C578.27 216.08 578.33 218.43 580.8 219.5 C583.27 220.57 587.55 221.18 591.6 221.9 C595.65 222.62 601.03 223.13 605.1 223.8 C609.17 224.47 612.85 225 616 225.9 C619.15 226.8 621.98 228.65 624 229.2 C626.02 229.75 626.93 229.65 628.1 229.2 C629.27 228.75 630.52 226.95 631 226.5" fill="none" stroke="#000" stroke-width="1.7" stroke-linejoin="round"/>
<path d="M110.5 173.2 C110.75 172.5 111.35 170 112 169 C112.65 168 113.57 167.28 114.4 167.2 C115.23 167.12 116.27 167.5 117 168.5 C117.73 169.5 118.5 172.42 118.8 173.2 Z" fill="#8ec5a1" stroke="#000" stroke-width="1.7" stroke-linejoin="round"/>
<path d="M177.5 167.8 C177.75 167.33 178.42 165.63 179 165 C179.58 164.37 180.33 164 181 164 C181.67 164 182.42 164.47 183 165 C183.58 165.53 184.25 166.83 184.5 167.2 Z" fill="#8ec5a1" stroke="#000" stroke-width="1.7" stroke-linejoin="round"/>
<path d="M245.5 158.6 C245.75 158.08 246.38 156.27 247 155.5 C247.62 154.73 248.45 154.08 249.2 154 C249.95 153.92 250.87 154.53 251.5 155 C252.13 155.47 252.75 156.5 253 156.8 Z" fill="#8ec5a1" stroke="#000" stroke-width="1.7" stroke-linejoin="round"/>
<path d="M76 173.8 C78.27 173.8 83.93 173.87 89.6 173.8 C95.27 173.73 103.93 173.5 110 173.4 C116.07 173.3 121.13 173.33 126 173.2 C130.87 173.07 135.78 173.18 139.2 172.6 C142.62 172.02 144.55 170.3 146.5 169.7 C148.45 169.1 148.65 169.25 150.9 169 C153.15 168.75 156.03 168.48 160 168.2 C163.97 167.92 169.78 167.82 174.7 167.3 C179.62 166.78 184.58 165.77 189.5 165.1 C194.42 164.43 200.52 163.92 204.2 163.3 C207.88 162.68 209.13 161.78 211.6 161.4 C214.07 161.02 215.32 161.25 219 161 C222.68 160.75 229.77 160.25 233.7 159.9 C237.63 159.55 239.15 159.52 242.6 158.9 C246.05 158.28 251.35 157.1 254.4 156.2 C257.45 155.3 258.83 154.32 260.9 153.5 C262.97 152.68 264.58 151.73 266.8 151.3 C269.02 150.87 271.25 151.02 274.2 150.9 C277.15 150.78 281.55 150.37 284.5 150.6 C287.45 150.83 289.45 152.23 291.9 152.3 C294.35 152.37 296.87 151.05 299.2 151 C301.53 150.95 303.43 152.2 305.9 152 C308.37 151.8 311.42 150.37 314 149.8 C316.58 149.23 318.7 148.97 321.4 148.6 C324.1 148.23 327.25 148.13 330.2 147.6 C333.15 147.07 336.88 145.65 339.1 145.4 C341.32 145.15 341.9 145.67 343.5 146.1 C345.1 146.53 346.63 148.25 348.7 148 C350.77 147.75 353.47 145.67 355.9 144.6 C358.33 143.53 360.85 142.22 363.3 141.6 C365.75 140.98 367.9 141.52 370.6 140.9 C373.3 140.28 376.78 138.4 379.5 137.9 C382.22 137.4 384.45 137.57 386.9 137.9 C389.35 138.23 392 139.97 394.2 139.9 C396.4 139.83 398.13 138 400.1 137.5 C402.07 137 404.27 137.68 406 136.9 C407.73 136.12 409.02 134.28 410.5 132.8 C411.98 131.32 413.68 128.55 414.9 128 C416.12 127.45 416.57 129.88 417.8 129.5 C419.03 129.12 420.33 127.37 422.3 125.7 C424.27 124.03 427.15 120.98 429.6 119.5 C432.05 118.02 434.53 117.05 437 116.8 C439.47 116.55 442.23 118 444.4 118 C446.57 118 448.07 117.55 450 116.8 C451.93 116.05 453.88 114.63 456 113.5 C458.12 112.37 460.35 112.1 462.7 110 C465.05 107.9 467.65 103.65 470.1 100.9 C472.55 98.15 475.2 95.35 477.4 93.5 C479.6 91.65 481.45 90.12 483.3 89.8 C485.15 89.48 486.77 91.9 488.5 91.6 C490.23 91.3 491.85 89.23 493.7 88 C495.55 86.77 497.63 85.08 499.6 84.2 C501.57 83.32 503.3 82.75 505.5 82.7 C507.7 82.65 510.83 84.07 512.8 83.9 C514.77 83.73 515.33 83.3 517.3 81.7 C519.27 80.1 522.15 76.52 524.6 74.3 C527.05 72.08 529.78 70.07 532 68.4 C534.22 66.73 536.53 65.15 537.9 64.3 C539.27 63.45 538.97 63.55 540.2 63.3 C541.43 63.05 544.02 62.45 545.3 62.8 C546.58 63.15 546.75 65.4 547.9 65.4 C549.05 65.4 550.62 63.8 552.2 62.8 C553.78 61.8 556.1 60.68 557.4 59.4 C558.7 58.12 559.15 56.53 560 55.1 C560.85 53.67 561.65 50.67 562.5 50.8 C563.35 50.93 564.23 54.53 565.1 55.9 C565.97 57.27 566.83 58.7 567.7 59 C568.57 59.3 568.87 59.15 570.3 57.7 C571.73 56.25 574.15 52.75 576.3 50.3 C578.45 47.85 581.18 45.5 583.2 43 C585.22 40.5 586.4 37.73 588.4 35.3 C590.4 32.87 592.63 31.13 595.2 28.4 C597.77 25.67 601.78 21.33 603.8 18.9 C605.82 16.47 606.15 15.67 607.3 13.8 C608.45 11.93 608.98 9.43 610.7 7.7 C612.42 5.97 615.58 4.4 617.6 3.4 C619.62 2.4 620.93 1.98 622.8 1.7 C624.67 1.42 627.43 1.55 628.8 1.7 C630.17 1.85 630.63 2.45 631 2.6 L631 185.0 L76 185.0 Z" fill="#6b7b85"/>
<path d="M76 173.8 C78.27 173.8 83.93 173.87 89.6 173.8 C95.27 173.73 103.93 173.5 110 173.4 C116.07 173.3 121.13 173.33 126 173.2 C130.87 173.07 135.78 173.18 139.2 172.6 C142.62 172.02 144.55 170.3 146.5 169.7 C148.45 169.1 148.65 169.25 150.9 169 C153.15 168.75 156.03 168.48 160 168.2 C163.97 167.92 169.78 167.82 174.7 167.3 C179.62 166.78 184.58 165.77 189.5 165.1 C194.42 164.43 200.52 163.92 204.2 163.3 C207.88 162.68 209.13 161.78 211.6 161.4 C214.07 161.02 215.32 161.25 219 161 C222.68 160.75 229.77 160.25 233.7 159.9 C237.63 159.55 239.15 159.52 242.6 158.9 C246.05 158.28 251.35 157.1 254.4 156.2 C257.45 155.3 258.83 154.32 260.9 153.5 C262.97 152.68 264.58 151.73 266.8 151.3 C269.02 150.87 271.25 151.02 274.2 150.9 C277.15 150.78 281.55 150.37 284.5 150.6 C287.45 150.83 289.45 152.23 291.9 152.3 C294.35 152.37 296.87 151.05 299.2 151 C301.53 150.95 303.43 152.2 305.9 152 C308.37 151.8 311.42 150.37 314 149.8 C316.58 149.23 318.7 148.97 321.4 148.6 C324.1 148.23 327.25 148.13 330.2 147.6 C333.15 147.07 336.88 145.65 339.1 145.4 C341.32 145.15 341.9 145.67 343.5 146.1 C345.1 146.53 346.63 148.25 348.7 148 C350.77 147.75 353.47 145.67 355.9 144.6 C358.33 143.53 360.85 142.22 363.3 141.6 C365.75 140.98 367.9 141.52 370.6 140.9 C373.3 140.28 376.78 138.4 379.5 137.9 C382.22 137.4 384.45 137.57 386.9 137.9 C389.35 138.23 392 139.97 394.2 139.9 C396.4 139.83 398.13 138 400.1 137.5 C402.07 137 404.27 137.68 406 136.9 C407.73 136.12 409.02 134.28 410.5 132.8 C411.98 131.32 413.68 128.55 414.9 128 C416.12 127.45 416.57 129.88 417.8 129.5 C419.03 129.12 420.33 127.37 422.3 125.7 C424.27 124.03 427.15 120.98 429.6 119.5 C432.05 118.02 434.53 117.05 437 116.8 C439.47 116.55 442.23 118 444.4 118 C446.57 118 448.07 117.55 450 116.8 C451.93 116.05 453.88 114.63 456 113.5 C458.12 112.37 460.35 112.1 462.7 110 C465.05 107.9 467.65 103.65 470.1 100.9 C472.55 98.15 475.2 95.35 477.4 93.5 C479.6 91.65 481.45 90.12 483.3 89.8 C485.15 89.48 486.77 91.9 488.5 91.6 C490.23 91.3 491.85 89.23 493.7 88 C495.55 86.77 497.63 85.08 499.6 84.2 C501.57 83.32 503.3 82.75 505.5 82.7 C507.7 82.65 510.83 84.07 512.8 83.9 C514.77 83.73 515.33 83.3 517.3 81.7 C519.27 80.1 522.15 76.52 524.6 74.3 C527.05 72.08 529.78 70.07 532 68.4 C534.22 66.73 536.53 65.15 537.9 64.3 C539.27 63.45 538.97 63.55 540.2 63.3 C541.43 63.05 544.02 62.45 545.3 62.8 C546.58 63.15 546.75 65.4 547.9 65.4 C549.05 65.4 550.62 63.8 552.2 62.8 C553.78 61.8 556.1 60.68 557.4 59.4 C558.7 58.12 559.15 56.53 560 55.1 C560.85 53.67 561.65 50.67 562.5 50.8 C563.35 50.93 564.23 54.53 565.1 55.9 C565.97 57.27 566.83 58.7 567.7 59 C568.57 59.3 568.87 59.15 570.3 57.7 C571.73 56.25 574.15 52.75 576.3 50.3 C578.45 47.85 581.18 45.5 583.2 43 C585.22 40.5 586.4 37.73 588.4 35.3 C590.4 32.87 592.63 31.13 595.2 28.4 C597.77 25.67 601.78 21.33 603.8 18.9 C605.82 16.47 606.15 15.67 607.3 13.8 C608.45 11.93 608.98 9.43 610.7 7.7 C612.42 5.97 615.58 4.4 617.6 3.4 C619.62 2.4 620.93 1.98 622.8 1.7 C624.67 1.42 627.43 1.55 628.8 1.7 C630.17 1.85 630.63 2.45 631 2.6" fill="none" stroke="#000" stroke-width="1.7" stroke-linejoin="round"/>
<path d="M76 174.7 C81.67 174.67 101.67 174.57 110 174.5 C118.33 174.43 121.17 174.42 126 174.3 C130.83 174.18 135.58 174.35 139 173.8 C142.42 173.25 144.5 171.58 146.5 171 C148.5 170.42 147.08 170.33 151 170.3 C154.92 170.27 161 170.98 170 170.8 C179 170.62 193.33 169.67 205 169.2 C216.67 168.73 227.5 168.53 240 168 C252.5 167.47 269.43 166.42 280 166 C290.57 165.58 296.58 165.83 303.4 165.5 C310.22 165.17 315.07 164.4 320.9 164 C326.73 163.6 332.77 163.53 338.4 163.1 C344.03 162.67 349.52 161.98 354.7 161.4 C359.88 160.82 364.58 159.97 369.5 159.6 C374.42 159.23 379.28 159.37 384.2 159.2 C389.12 159.03 394.08 158.85 399 158.6 C403.92 158.35 409.77 158.1 413.7 157.7 C417.63 157.3 419.4 156.62 422.6 156.2 C425.8 155.78 430.68 155.32 432.9 155.2 C435.12 155.08 434.42 155.2 435.9 155.5 C437.38 155.8 439.58 156.18 441.8 157 C444.02 157.82 446.5 159.35 449.2 160.4 C451.9 161.45 455.05 162.77 458 163.3 C460.95 163.83 463.45 163.5 466.9 163.6 C470.35 163.7 475.02 163.6 478.7 163.9 C482.38 164.2 485.57 164.83 489 165.4 C492.43 165.97 496.1 166.98 499.3 167.3 C502.5 167.62 505 167.62 508.2 167.3 C511.4 166.98 514.7 165.95 518.5 165.4 C522.3 164.85 527.45 164.3 531 164 C534.55 163.7 536.85 163.67 539.8 163.6 C542.75 163.53 545.75 163.72 548.7 163.6 C551.65 163.48 555.53 163.4 557.5 162.9 C559.47 162.4 559.68 161.42 560.5 160.6 C561.32 159.78 561.67 157.87 562.4 158 C563.13 158.13 563.75 160.05 564.9 161.4 C566.05 162.75 568.07 165.37 569.3 166.1 C570.53 166.83 570.82 166.38 572.3 165.8 C573.78 165.22 576.23 163.33 578.2 162.6 C580.17 161.87 582.38 161.43 584.1 161.4 C585.82 161.37 587.03 161.92 588.5 162.4 C589.97 162.88 591.3 163.9 592.9 164.3 C594.5 164.7 596.62 165.17 598.1 164.8 C599.58 164.43 600.45 162.3 601.8 162.1 C603.15 161.9 604.73 163.6 606.2 163.6 C607.67 163.6 608.88 162.78 610.6 162.1 C612.32 161.42 614.53 160.12 616.5 159.5 C618.47 158.88 620.67 158.33 622.4 158.4 C624.13 158.47 625.47 159.3 626.9 159.9 C628.33 160.5 630.32 161.65 631 162 L631 185.0 L76 185.0 Z" fill="#ee8425"/>
<path d="M76 174.7 C81.67 174.67 101.67 174.57 110 174.5 C118.33 174.43 121.17 174.42 126 174.3 C130.83 174.18 135.58 174.35 139 173.8 C142.42 173.25 144.5 171.58 146.5 171 C148.5 170.42 147.08 170.33 151 170.3 C154.92 170.27 161 170.98 170 170.8 C179 170.62 193.33 169.67 205 169.2 C216.67 168.73 227.5 168.53 240 168 C252.5 167.47 269.43 166.42 280 166 C290.57 165.58 296.58 165.83 303.4 165.5 C310.22 165.17 315.07 164.4 320.9 164 C326.73 163.6 332.77 163.53 338.4 163.1 C344.03 162.67 349.52 161.98 354.7 161.4 C359.88 160.82 364.58 159.97 369.5 159.6 C374.42 159.23 379.28 159.37 384.2 159.2 C389.12 159.03 394.08 158.85 399 158.6 C403.92 158.35 409.77 158.1 413.7 157.7 C417.63 157.3 419.4 156.62 422.6 156.2 C425.8 155.78 430.68 155.32 432.9 155.2 C435.12 155.08 434.42 155.2 435.9 155.5 C437.38 155.8 439.58 156.18 441.8 157 C444.02 157.82 446.5 159.35 449.2 160.4 C451.9 161.45 455.05 162.77 458 163.3 C460.95 163.83 463.45 163.5 466.9 163.6 C470.35 163.7 475.02 163.6 478.7 163.9 C482.38 164.2 485.57 164.83 489 165.4 C492.43 165.97 496.1 166.98 499.3 167.3 C502.5 167.62 505 167.62 508.2 167.3 C511.4 166.98 514.7 165.95 518.5 165.4 C522.3 164.85 527.45 164.3 531 164 C534.55 163.7 536.85 163.67 539.8 163.6 C542.75 163.53 545.75 163.72 548.7 163.6 C551.65 163.48 555.53 163.4 557.5 162.9 C559.47 162.4 559.68 161.42 560.5 160.6 C561.32 159.78 561.67 157.87 562.4 158 C563.13 158.13 563.75 160.05 564.9 161.4 C566.05 162.75 568.07 165.37 569.3 166.1 C570.53 166.83 570.82 166.38 572.3 165.8 C573.78 165.22 576.23 163.33 578.2 162.6 C580.17 161.87 582.38 161.43 584.1 161.4 C585.82 161.37 587.03 161.92 588.5 162.4 C589.97 162.88 591.3 163.9 592.9 164.3 C594.5 164.7 596.62 165.17 598.1 164.8 C599.58 164.43 600.45 162.3 601.8 162.1 C603.15 161.9 604.73 163.6 606.2 163.6 C607.67 163.6 608.88 162.78 610.6 162.1 C612.32 161.42 614.53 160.12 616.5 159.5 C618.47 158.88 620.67 158.33 622.4 158.4 C624.13 158.47 625.47 159.3 626.9 159.9 C628.33 160.5 630.32 161.65 631 162" fill="none" stroke="#000" stroke-width="1.7" stroke-linejoin="round"/>
<path d="M76 183.7 L631 184.1 L631 185.9 L320 186.1 L220 186.5 L150 186.8 L76 187.2 Z" fill="#000"/>
</g>
<rect x="75.8" y="1.7" width="555.5" height="379.2" fill="none" stroke="#000" stroke-width="1.45"/>
<g class="ax">
<text transform="translate(69.2 19.8) scale(1 1.03)" text-anchor="end">400</text>
<text transform="translate(69.2 65.3) scale(1 1.03)" text-anchor="end">300</text>
<text transform="translate(69.2 109.3) scale(1 1.03)" text-anchor="end">200</text>
<text transform="translate(69.2 157.4) scale(1 1.03)" text-anchor="end">100</text>
<text transform="translate(69.2 198.5) scale(1 1.03)" text-anchor="end">0</text>
<text transform="translate(69.2 240.4) scale(1 1.03)" text-anchor="end">–100</text>
<text transform="translate(69.2 280.5) scale(1 1.03)" text-anchor="end">–200</text>
<text transform="translate(69.2 320.90000000000003) scale(1 1.03)" text-anchor="end">–300</text>
<text transform="translate(69.2 367.1) scale(1 1.03)" text-anchor="end">–400</text>
<text transform="translate(64.0 405.3) scale(1 1.05)">1850</text>
<text transform="translate(220.5 405.3) scale(1 1.05)">1900</text>
<text transform="translate(387.5 405.3) scale(1 1.05)">1950</text>
<text transform="translate(539.0 405.3) scale(1 1.05)">2000</text>
<text transform="translate(610.2 405.3) scale(1 1.05)">2018</text>
<text transform="translate(650.8 405.3) scale(1 1.05)" textLength="31" lengthAdjust="spacing">Year</text>
<text transform="translate(13.2 360.8) rotate(-90)" x="0" y="0" style="font-size:17.2px">Carbon emission, absorption and occurrence/10<tspan dy="-6.2" style="font-size:9.6px">8</tspan><tspan dy="6.2">t</tspan><tspan dy="6" style="font-size:9px">C</tspan></text>
</g>
<rect x="91.89999999999999" y="289.6" width="16.799999999999997" height="17.599999999999998" fill="#6b7b85" stroke="#000" stroke-width="1.6"/>
<rect x="91.89999999999999" y="316.5" width="16.599999999999998" height="14.799999999999999" fill="#ee8425" stroke="#000" stroke-width="1.6"/>
<rect x="92.3" y="342.2" width="16.5" height="15.000000000000002" fill="#6383c3" stroke="#000" stroke-width="1.6"/>
<rect x="331.90000000000003" y="290.8" width="17.2" height="16.4" fill="#8ec5a1" stroke="#000" stroke-width="1.6"/>
<rect x="333.5" y="317.5" width="15.6" height="13.1" fill="#a5c4d4" stroke="#000" stroke-width="1.6"/>
<rect x="333.2" y="341.40000000000003" width="16.4" height="15.500000000000002" fill="#d4d4d4" stroke="#000" stroke-width="1.6"/>
<text x="115.1" y="293.6" class="lg">Carbon source</text>
<text x="115.1" y="307.2" class="lg">(fossil energy use emissions)</text>
<text x="115.1" y="329.1" class="lg">Carbon source (land use emissions)</text>
<text x="115.1" y="356.0" class="lg">Carbon Sinks (Ocean absorption)</text>
<text x="356.7" y="295.2" class="lg">Carbon Sink</text>
<text x="356.7" y="308.6" class="lg">(Terrestrial absorption)</text>
<text x="356.7" y="329.6" class="lg">Atmospheric occurrence</text>
<text x="356.7" y="354.6" class="lg">Carbon budget imbalance</text>
</svg>
</body></html>
